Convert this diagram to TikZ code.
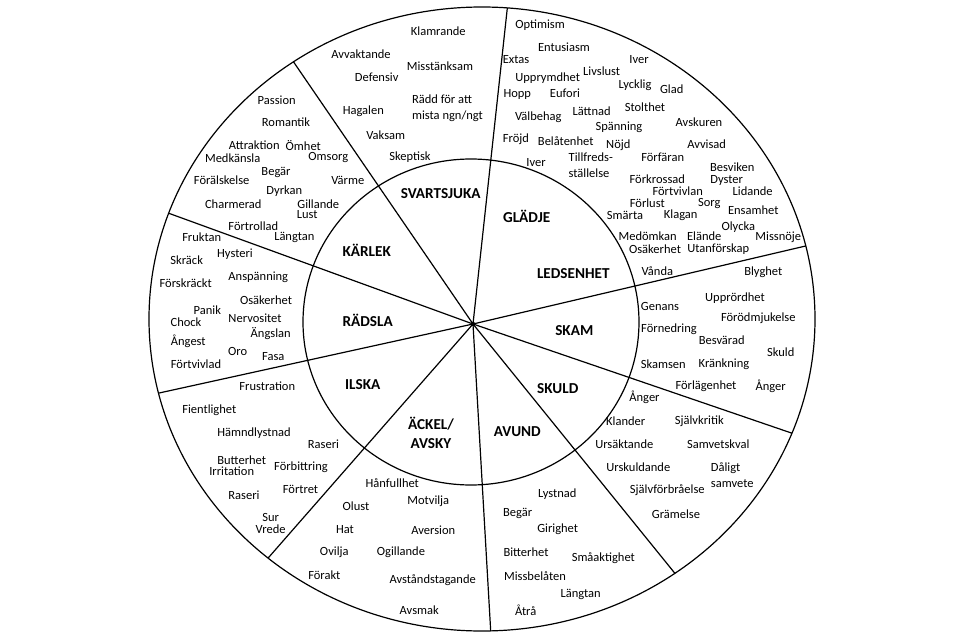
\documentclass[tikz,border=0pt]{standalone}
\usepackage{fontspec}
\setmainfont{Carlito}

\newcommand{\wordfont}{\fontsize{6.25}{8}\selectfont}
\newcommand{\feelfont}{\fontsize{7.6}{9.7}\selectfont\bfseries}

\tikzset{
    word/.style={font=\wordfont, inner sep=0pt},
    feel/.style={font=\feelfont, inner sep=0pt, align=center},
    rim/.style={line width=0.6pt}
}

\begin{document}
\begin{tikzpicture}[x=0.5pt,y=-0.5pt]

            %\draw [help lines, step=20] (0,0) grid (960,637);
            \useasboundingbox (0,0) rectangle (960,637);
            \coordinate (hub) at (473,324);

            \begin{scope}
                \clip (482,319) ellipse [x radius=333, y radius=312];
                \foreach \a in {-83.8,-124.4,-160,-192.4,-228.8,-273.3,-309,-341.1,-13.2}
                    \draw[rim] (hub) -- ++(\a:800);
            \end{scope}
            \draw[rim] (482,319) ellipse [x radius=333, y radius=312];
            \draw[rim] (471,322) ellipse [x radius=168, y radius=163];
            \fill (hub) circle [radius=2.2];

            % inner ring
            \path   (440.7,193.3) node (svartsjuka) [feel] {SVARTSJUKA}
                    (526.7,216)   node (gladje)     [feel] {GLÄDJE}
                    (366.7,250)   node (karlek)     [feel] {KÄRLEK}
                    (573.3,274)   node (ledsenhet)  [feel] {LEDSENHET}
                    (367.7,320)   node (radsla)     [feel] {RÄDSLA}
                    (574.3,331)   node (skam)       [feel] {SKAM}
                    (362.7,385)   node (ilska)      [feel] {ILSKA}
                    (557.7,388.3) node (skuldF)     [feel] {SKULD}
                    (431,433)     node (ackel)      [feel] {ÄCKEL/\\AVSKY}
                    (517.3,431.7) node (avund)      [feel] {AVUND};

            % svartsjuka
            \path   (438.3,31.7)  node (klamrande)   [word] {Klamrande}
                    (361,54.3)    node (avvaktande)  [word] {Avvaktande}
                    (440,66)      node (misstanksam) [word] {Misstänksam}
                    (376.7,77.7)  node (defensiv)    [word] {Defensiv}
                    (411.7,108.3) node (radd)        [word,align=left,anchor=west] {Rädd för att\\mista ngn/ngt}
                    (363.3,111.7) node (hagalen)     [word] {Hagalen}
                    (385.7,135)   node (vaksam)      [word] {Vaksam}
                    (410,157.3)   node (skeptisk)    [word] {Skeptisk};

            % gladje
            \path   (540,25)      node (optimism)   [word] {Optimism}
                    (564,47.7)    node (entusiasm)  [word] {Entusiasm}
                    (516,59.3)    node (extas)      [word] {Extas}
                    (639,59.3)    node (iverA)      [word] {Iver}
                    (547.7,77.7)  node (upprymdhet) [word] {Upprymdhet}
                    (601.7,71)    node (livslust)   [word] {Livslust}
                    (635,85)      node (lycklig)    [word] {Lycklig}
                    (671.7,89)    node (glad)       [word] {Glad}
                    (517.3,94.3)  node (hopp)       [word] {Hopp}
                    (565,93.3)    node (eufori)     [word] {Eufori}
                    (645,107.3)   node (stolthet)   [word] {Stolthet}
                    (538.3,117.7) node (valbehag)   [word] {Välbehag}
                    (591.7,111.7) node (lattnad)    [word] {Lättnad}
                    (619,127.7)   node (spanning)   [word] {Spänning}
                    (516,139.3)   node (frojd)      [word] {Fröjd}
                    (565.7,141)   node (belatenhet) [word] {Belåtenhet}
                    (618.3,145.7) node (nojd)       [word] {Nöjd}
                    (568.3,165.3) node (tillfreds)  [word,align=left,anchor=west] {Tillfreds-\\ställelse}
                    (536,162.7)   node (iverB)      [word] {Iver};

            % ledsenhet
            \path   (699,122)     node (avskuren)    [word] {Avskuren}
                    (706.7,144.3) node (avvisad)     [word] {Avvisad}
                    (662.7,157.7) node (forfaran)    [word] {Förfäran}
                    (732.3,167.7) node (besviken)    [word] {Besviken}
                    (726.7,180)   node (dyster)      [word] {Dyster}
                    (657.3,179)   node (forkrossad)  [word] {Förkrossad}
                    (677.7,191.7) node (fortvivlan)  [word] {Förtvivlan}
                    (752.7,191.7) node (lidande)     [word] {Lidande}
                    (647.3,203.3) node (forlust)     [word] {Förlust}
                    (709.3,203.3) node (sorg)        [word] {Sorg}
                    (625,215)     node (smarta)      [word] {Smärta}
                    (680.7,215)   node (klagan)      [word] {Klagan}
                    (753.3,210.7) node (ensamhet)    [word] {Ensamhet}
                    (738.3,226.7) node (olycka)      [word] {Olycka}
                    (647.7,236)   node (medomkan)    [word] {Medömkan}
                    (704.3,236)   node (elande)      [word] {Elände}
                    (778.3,237.3) node (missnoje)    [word] {Missnöje}
                    (655,249.3)   node (osakerhetA)  [word] {Osäkerhet}
                    (718.3,249.3) node (utanforskap) [word] {Utanförskap}
                    (657.3,271)   node (vanda)       [word] {Vånda};

            % skam
            \path   (763.3,272.3) node (blyghet)       [word] {Blyghet}
                    (660,306.7)   node (genans)        [word] {Genans}
                    (735,297.7)   node (upprordhet)    [word] {Upprördhet}
                    (758.3,318.3) node (forodmjukelse) [word] {Förödmjukelse}
                    (669,329.3)   node (fornedring)    [word] {Förnedring}
                    (721.7,340.7) node (besvarad)      [word] {Besvärad}
                    (780.7,352.3) node (skuld)         [word] {Skuld}
                    (663.3,364.3) node (skamsen)       [word] {Skamsen}
                    (724,364.3)   node (krankning)     [word] {Kränkning}
                    (706,386.7)   node (forlagenhet)   [word] {Förlägenhet}
                    (770.7,386.7) node (angerA)        [word] {Ånger};

            % skuld
            \path   (644.5,397.7) node (angerB)          [word] {Ånger}
                    (625.7,421.7) node (klander)         [word] {Klander}
                    (699.3,421.7) node (sjalvkritik)     [word] {Självkritik}
                    (624.3,444)   node (ursaktande)      [word] {Ursäktande}
                    (718.3,444)   node (samvetskval)     [word] {Samvetskval}
                    (638.3,467.7) node (urskuldande)     [word] {Urskuldande}
                    (710.5,475.5) node (daligt)          [word,align=left,anchor=west] {Dåligt\\samvete}
                    (667.3,490)   node (sjalvforbraelse) [word] {Självförbråelse}
                    (676,514)     node (gramelse)        [word] {Grämelse};

            % avund
            \path   (557.3,494.3) node (lystnad)     [word] {Lystnad}
                    (517.7,513.3) node (begarB)      [word] {Begär}
                    (557.7,529.3) node (girighet)    [word] {Girighet}
                    (526,552.7)   node (bitterhet)   [word] {Bitterhet}
                    (603.3,558.3) node (smaaktighet) [word] {Småaktighet}
                    (535,575.7)   node (missbelaten) [word] {Missbelåten}
                    (580.7,594)   node (langtanB)    [word] {Längtan}
                    (525.7,610)   node (atra)        [word] {Åtrå};

            % ackel/avsky
            \path   (392.3,483.3) node (hanfullhet)      [word] {Hånfullhet}
                    (356,506.7)   node (olust)           [word] {Olust}
                    (428.3,501.7) node (motvilja)        [word] {Motvilja}
                    (345,530)     node (hat)             [word] {Hat}
                    (433.3,530)   node (aversion)        [word] {Aversion}
                    (334.3,552.7) node (ovilja)          [word] {Ovilja}
                    (401,552.7)   node (ogillande)       [word] {Ogillande}
                    (324.3,575.7) node (forakt)          [word] {Förakt}
                    (432.7,580)   node (avstandstagande) [word] {Avståndstagande}
                    (419.3,610)   node (avsmak)          [word] {Avsmak};

            % ilska
            \path   (267.3,386.7) node (frustration)  [word] {Frustration}
                    (209.3,410)   node (fientlighet)  [word] {Fientlighet}
                    (254,432.7)   node (hamndlystnad) [word] {Hämndlystnad}
                    (323.5,444)   node (raseriA)      [word] {Raseri}
                    (241.7,460.7) node (butterhet)    [word] {Butterhet}
                    (231.7,471.7) node (irritation)   [word] {Irritation}
                    (301,467.3)   node (forbittring)  [word] {Förbittring}
                    (244,495)     node (raseriB)      [word] {Raseri}
                    (300.5,489.5) node (fortret)      [word] {Förtret}
                    (270.7,517.3) node (sur)          [word] {Sur}
                    (270.7,529.3) node (vrede)        [word] {Vrede};

            % radsla
            \path   (201.7,237.3) node (fruktan)    [word] {Fruktan}
                    (235,253.8)   node (hysteri)    [word] {Hysteri}
                    (186.7,260.7) node (skrack)     [word] {Skräck}
                    (185.7,283.3) node (forskrackt) [word] {Förskräckt}
                    (258.3,277.3) node (anspanning) [word] {Anspänning}
                    (266,300)     node (osakerhetB) [word] {Osäkerhet}
                    (207.3,310.7) node (panik)      [word] {Panik}
                    (186,322.7)   node (chock)      [word] {Chock}
                    (255,318.3)   node (nervositet) [word] {Nervositet}
                    (270.7,334)   node (angslan)    [word] {Ängslan}
                    (188.3,341)   node (angest)     [word] {Ångest}
                    (237.7,351)   node (oro)        [word] {Oro}
                    (273.3,356.7) node (fasa)       [word] {Fasa}
                    (196,364)     node (fortvivlad) [word] {Förtvivlad};

            % karlek
            \path   (276.7,100)   node (passion)     [word] {Passion}
                    (286,122.7)   node (romantik)    [word] {Romantik}
                    (254.3,145.7) node (attraktion)  [word] {Attraktion}
                    (303.3,145.7) node (omhet)       [word] {Ömhet}
                    (232.7,158.3) node (medkansla)   [word] {Medkänsla}
                    (328.3,158)   node (omsorg)      [word] {Omsorg}
                    (276,172.3)   node (begarA)      [word] {Begär}
                    (221.7,180.7) node (foralskelse) [word] {Förälskelse}
                    (347.8,180.3) node (varme)       [word] {Värme}
                    (284.3,190.7) node (dyrkan)      [word] {Dyrkan}
                    (233.3,204)   node (charmerad)   [word] {Charmerad}
                    (318.3,204)   node (gillande)    [word] {Gillande}
                    (307.3,215)   node (lust)        [word] {Lust}
                    (253.3,226)   node (fortrollad)  [word] {Förtrollad}
                    (294.3,237.3) node (langtanA)    [word] {Längtan};

\end{tikzpicture}
\end{document}
